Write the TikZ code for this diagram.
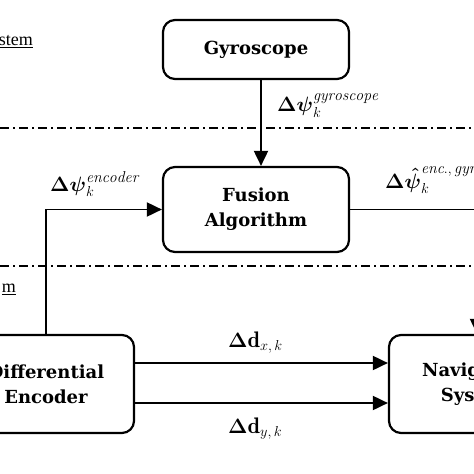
\documentclass[tikz,border=0pt]{standalone}
\usepackage{amsmath}
\usepackage{fontspec}
\newfontfamily\boxfont{DejaVu Serif}
\newfontfamily\capfont{Liberation Serif}
\usetikzlibrary{arrows.meta,calc}
\begin{document}
\begin{tikzpicture}[x=1pt,y=-1pt,
  blk/.style={draw,line width=2.2pt,rounded corners=12pt,align=center,
    font=\boxfont\bfseries\fontsize{18}{25}\selectfont,inner sep=0pt},
  conn/.style={line width=1.9pt},
  arr/.style={conn,-{Triangle[length=15pt,width=14pt]}},
  sep/.style={line width=1.4pt,dash pattern=on 9pt off 4pt on 2pt off 4pt},
  lbl/.style={font=\fontsize{22.5}{26}\selectfont,inner sep=0pt,anchor=base west},
  captxt/.style={font=\capfont\fontsize{18}{21}\selectfont,inner sep=0pt,anchor=base east}]
\useasboundingbox (0,0) rectangle (474,474);
\clip (0,0) rectangle (474,474);

% separators
\draw[sep] (0,128) -- (474,128);
\draw[sep] (0,266) -- (474,266);

% captions (clipped in the reference)
\node[captxt] (c1) at (33,45) {\underline{stem}};
\node[captxt] (c2) at (16,292) {\underline{m}};

% blocks
\node[blk,minimum width=186pt,minimum height=59pt] (gyro) at (256,49.5) {Gyroscope};
\node[blk,minimum width=186pt,minimum height=85pt] (fus) at (256,209.5) {Fusion\\Algorithm};
\node[blk,minimum width=176pt,minimum height=98pt] (enc) at (46,384) {Differential\\Encoder};
\node[blk,minimum width=176pt,minimum height=98pt] (nav) at (477,384) {Navigation\\System};

% connectors
\draw[arr] ($(gyro.south)+(5,0)$) -- ($(fus.north)+(5,0)$);
\draw[arr] (enc.north) |- (fus.west);
\draw[arr] (fus.east) -| (nav.north);
\draw[arr] ($(enc.east)+(0,-21)$) -- ($(nav.west)+(0,-21)$);
\draw[arr] ($(enc.east)+(0,19)$) -- ($(nav.west)+(0,19)$);

% labels
\node[lbl] (lg) at (277,111) {$\boldsymbol{\Delta\psi}_k^{\mathit{gyroscope}}$};
\node[lbl] (le) at (50,191) {$\boldsymbol{\Delta\psi}_k^{\mathit{encoder}}$};
\node[lbl] (lf) at (385,188) {$\boldsymbol{\Delta\hat{\psi}}_k^{\mathit{enc.,\,gyroscope}}$};
\node[lbl] (lx) at (228,347) {$\boldsymbol{\Delta}\mathbf{d}_{x,\,k}$};
\node[lbl] (ly) at (228,433) {$\boldsymbol{\Delta}\mathbf{d}_{y,\,k}$};
\end{tikzpicture}
\end{document}
